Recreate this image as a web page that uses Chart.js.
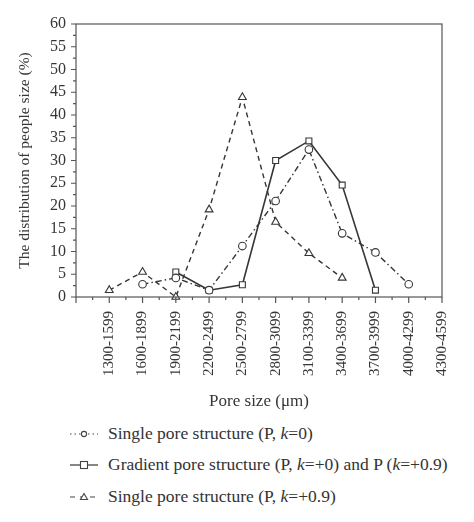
<!DOCTYPE html>
<html>
<head>
<meta charset="utf-8">
<script src="https://cdn.jsdelivr.net/npm/chart.js@4"></script>
<style>
  body { margin: 0; background: #fff; }
  #wrap { position: relative; width: 474px; height: 522px; }
  #box { position: absolute; left: 0; top: 0; width: 474px; height: 420px; }
  .leg { position: absolute; left: 68px; font: 17.5px "Liberation Serif", serif; color: #333; white-space: nowrap; }
  .leg svg { position: absolute; left: 0; top: -7px; }
  .leg span { position: absolute; left: 40px; top: -11px; }
</style>
</head>
<body>
<div id="wrap">
  <div id="box"><canvas id="myChart"></canvas></div>
  <div class="leg" style="top:434px">
    <svg width="32" height="14"><line x1="2" y1="7" x2="30" y2="7" stroke="#444" stroke-width="1.2" stroke-dasharray="1.5,3"/><circle cx="16" cy="7" r="2.6" fill="#fff" stroke="#444" stroke-width="1.1"/></svg>
    <span>Single pore structure (P, <i>k</i>=0)</span>
  </div>
  <div class="leg" style="top:465px">
    <svg width="32" height="14"><line x1="2" y1="7" x2="30" y2="7" stroke="#444" stroke-width="1.3"/><rect x="12.5" y="3.5" width="7" height="7" fill="#fff" stroke="#444" stroke-width="1.1"/></svg>
    <span>Gradient pore structure (P, <i>k</i>=+0) and P (<i>k</i>=+0.9)</span>
  </div>
  <div class="leg" style="top:497px">
    <svg width="32" height="14"><line x1="2" y1="7" x2="30" y2="7" stroke="#444" stroke-width="1.2" stroke-dasharray="5,5"/><polygon points="16,3.5 19.5,9.5 12.5,9.5" fill="#fff" stroke="#444" stroke-width="1.1"/></svg>
    <span>Single pore structure (P, <i>k</i>=+0.9)</span>
  </div>
</div>
<script>
// Pore size bins, plotted at positions 1..11 on the x axis
var poreSizes = ["1300-1599", "1600-1899", "1900-2199", "2200-2499", "2500-2799", "2800-3099",
                 "3100-3399", "3400-3699", "3700-3999", "4000-4299", "4300-4599"];

// Single pore structure (P, k=0), from 1600-1899 to 4000-4299
var singleK0Bins = [2, 3, 4, 5, 6, 7, 8, 9, 10];
var singleK0 = [2.8, 4.2, 1.5, 11.2, 21.1, 32.4, 14.0, 9.8, 2.8];

// Gradient pore structure, from 1900-2199 to 3700-3999
var gradientBins = [3, 4, 5, 6, 7, 8, 9];
var gradient = [5.5, 1.5, 2.7, 30.0, 34.3, 24.6, 1.5];

// Single pore structure (P, k=+0.9), from 1300-1599 to 3400-3699
var singleK09Bins = [1, 2, 3, 4, 5, 6, 7, 8];
var singleK09 = [1.5, 5.5, 0, 19.2, 43.9, 16.5, 9.6, 4.2];

var yTicks = [0, 5, 10, 15, 20, 25, 30, 35, 40, 45, 50, 55, 60];

var ink = "#363636";
var serif = "'Liberation Serif', 'DejaVu Serif', serif";

function toPoints(bins, values) {
    var pts = [];
    for (var i = 0; i < bins.length; i++) {
        pts.push({ x: bins[i], y: values[i] });
    }
    return pts;
}

// draws the frame and the major/minor tick marks from the chart scales
var frameTicks = {
    id: "frameTicks",
    afterDraw: function (chart) {
        var ctx = chart.ctx;
        var area = chart.chartArea;
        var xs = chart.scales.x;
        var ys = chart.scales.y;
        ctx.save();
        ctx.strokeStyle = "#555";
        ctx.lineWidth = 1.2;
        ctx.strokeRect(area.left, area.top, area.right - area.left, area.bottom - area.top);
        ctx.beginPath();
        for (var v = 0; v <= 11; v += 0.5) {
            var px = xs.getPixelForValue(v);
            var len = (v % 1 === 0) ? 6 : 3;
            ctx.moveTo(px, area.bottom);
            ctx.lineTo(px, area.bottom + len);
        }
        for (var w = 0; w <= 60; w += 2.5) {
            var py = ys.getPixelForValue(w);
            var l = (w % 5 === 0) ? 5 : 3;
            ctx.moveTo(area.left, py);
            ctx.lineTo(area.left - l, py);
        }
        ctx.stroke();
        ctx.restore();
    }
};

var common = {
    borderColor: ink,
    borderWidth: 1.4,
    pointBackgroundColor: "#fff",
    pointBorderColor: ink,
    pointBorderWidth: 1.1,
    fill: false,
    tension: 0,
    clip: false
};

var ctx = document.getElementById("myChart").getContext("2d");
var myChart = new Chart(ctx, {
    type: "line",
    data: {
        datasets: [
            Object.assign({}, common, {
                label: "Single pore structure (P, k=0)",
                data: toPoints(singleK0Bins, singleK0),
                borderDash: [6, 3, 1.5, 3],
                pointStyle: "circle",
                pointRadius: 3.8
            }),
            Object.assign({}, common, {
                label: "Gradient pore structure (P, k=+0) and P (k=+0.9)",
                data: toPoints(gradientBins, gradient),
                pointStyle: "rect",
                pointRadius: 4.2,
                borderWidth: 1.6
            }),
            Object.assign({}, common, {
                label: "Single pore structure (P, k=+0.9)",
                data: toPoints(singleK09Bins, singleK09),
                borderDash: [5, 4],
                pointStyle: "triangle",
                pointRadius: 4.5
            })
        ]
    },
    options: {
        responsive: true,
        maintainAspectRatio: false,
        animation: false,
        layout: { padding: { left: 16, right: 22, top: 24, bottom: 8 } },
        plugins: { legend: { display: false }, tooltip: { enabled: false } },
        scales: {
            x: {
                type: "linear",
                min: 0,
                max: 11,
                afterBuildTicks: function (s) {
                    s.ticks = [];
                    for (var i = 0; i <= 11; i++) s.ticks.push({ value: i });
                },
                afterFit: function (s) { s.height = 115; },
                grid: { display: false, drawTicks: false },
                border: { display: false },
                ticks: {
                    minRotation: 90,
                    maxRotation: 90,
                    padding: 14,
                    color: ink,
                    font: { family: serif, size: 15 },
                    callback: function (v) { return v >= 1 ? poreSizes[v - 1] : ""; }
                },
                title: {
                    display: true,
                    text: "Pore size (\u03bcm)",
                    color: ink,
                    padding: { top: 0, bottom: 0 },
                    font: { family: serif, size: 17 }
                }
            },
            y: {
                min: 0,
                max: 60,
                afterBuildTicks: function (s) {
                    s.ticks = yTicks.map(function (t) { return { value: t }; });
                },
                afterFit: function (s) { s.width = 60; },
                grid: { display: false, drawTicks: false },
                border: { display: false },
                ticks: {
                    padding: 10,
                    color: ink,
                    font: { family: serif, size: 16 }
                },
                title: {
                    display: true,
                    text: "The distribution of people size (%)",
                    color: ink,
                    padding: { top: 0, bottom: 0 },
                    font: { family: serif, size: 15.5 }
                }
            }
        }
    },
    plugins: [frameTicks]
});
</script>
</body>
</html>
